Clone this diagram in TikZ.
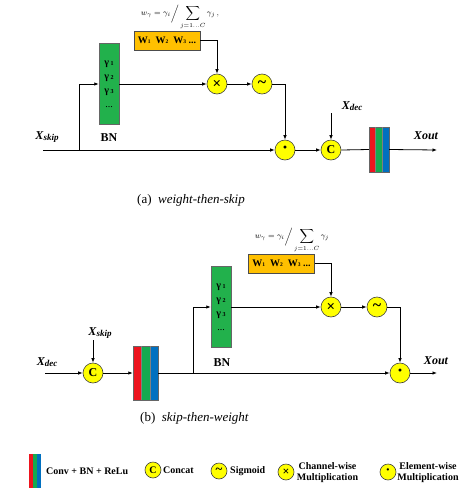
\documentclass[tikz,border=0pt]{standalone}
\usepackage{fontspec}
\setmainfont{Liberation Serif}
\usetikzlibrary{arrows.meta,calc}
\definecolor{bngreen}{RGB}{34,177,76}
\definecolor{worange}{RGB}{255,192,0}
\definecolor{opyellow}{RGB}{255,255,0}
\definecolor{cred}{RGB}{237,20,30}
\definecolor{cgreen}{RGB}{20,170,80}
\definecolor{cblue}{RGB}{0,112,192}
\newcommand{\convfill}[1]{%
  \fill[cred] (#1.north west) rectangle ($(#1.south west)!1/3!(#1.south east)$);
  \fill[cgreen] ($(#1.north west)!1/3!(#1.north east)$) rectangle ($(#1.south west)!2/3!(#1.south east)$);
  \fill[cblue] ($(#1.north west)!2/3!(#1.north east)$) rectangle (#1.south east);
  \draw[black!60,line width=0.4pt] (#1.north west) rectangle (#1.south east);
  \draw[black!50,line width=0.3pt] ($(#1.north west)!1/3!(#1.north east)$) -- ($(#1.south west)!1/3!(#1.south east)$)
     ($(#1.north west)!2/3!(#1.north east)$) -- ($(#1.south west)!2/3!(#1.south east)$);}
\newcommand{\gm}[1]{\textbf{γ}\,{\fontsize{6}{6}\selectfont\bfseries #1}}
\newcommand{\wv}[1]{W{\fontsize{5.5}{5.5}\selectfont #1}}
\newcommand{\xl}[1]{X\raisebox{-1.5pt}{\fontsize{9}{9}\selectfont #1}}
\newcommand{\smul}[1]{{\fontsize{#1}{#1}\selectfont\bfseries ×}}
\newcommand{\ssig}[1]{{\fontsize{#1}{#1}\selectfont\bfseries\raisebox{-0.08em}{\textasciitilde}}}
\newcommand{\sdot}[1]{{\fontsize{#1}{#1}\selectfont\bfseries ·}}
\begin{document}
\begin{tikzpicture}[x=1pt,y=-1pt,
  arr/.style={line width=0.8pt,-{Latex[length=4.5pt,width=3.5pt]}},
  ln/.style={line width=0.8pt},
  op/.style={circle,draw=black!75,fill=opyellow,line width=0.6pt,minimum size=20pt,inner sep=0pt,font=\bfseries\fontsize{12}{12}\selectfont},
  lop/.style={op,minimum size=16pt,font=\bfseries\fontsize{10}{10}\selectfont},
  bnbox/.style={draw=black!60,fill=bngreen,line width=0.4pt,minimum width=20pt,minimum height=81pt,inner sep=0pt,align=center,font=\fontsize{10}{14}\selectfont},
  wbox/.style={draw=black!70,fill=worange,line width=0.5pt,minimum width=66pt,minimum height=19pt,inner sep=0pt,font=\bfseries\fontsize{10}{10}\selectfont},
  convbox/.style={minimum width=20pt,minimum height=45pt,inner sep=0pt},
  lab/.style={font=\bfseries\itshape\fontsize{12}{12}\selectfont,inner sep=0pt},
  bnlab/.style={font=\bfseries\fontsize{12}{12}\selectfont,inner sep=0pt},
  captxt/.style={font=\fontsize{13}{13}\selectfont,inner sep=0pt},
  leg/.style={font=\bfseries\fontsize{10}{11}\selectfont,inner sep=0pt,align=center},
  frm/.style={font=\fontsize{8.5}{8.5}\selectfont,inner sep=0pt},
]
\useasboundingbox[fill=white] (0,0) rectangle (474,488);

% ---------------- (a) weight-then-skip ----------------
\node[frm] (fa) at (180,17) {$w_\gamma=\gamma_i\Big/\displaystyle\sum_{j=1\ldots C}\gamma_j\,,$};
\node[wbox] (wa) at (167,40.5) {\wv{1}\enspace\wv{2}\enspace\wv{3} ...};
\node[bnbox] (bna) at (109,84) {\gm{1}\\\gm{2}\\\gm{3}\\...};
\node[bnlab] (bnla) at (109,138) {BN};
\node[op] (mula) at (217,84) {\smul{15}};
\node[op] (siga) at (262,84) {\ssig{16}};
\node[op] (dota) at (285,150) {\sdot{18}};
\node[op] (cata) at (331,150) {C};
\node[convbox] (blka) at (379,149.5) {};
\convfill{blka}
\node[lab] (xsa) at (47,137) {\xl{skip}};
\node[lab] (xda) at (352,106) {\xl{dec}};
\node[lab] (xoa) at (426,136) {Xout};
\coordinate (ina) at (43,150);
\coordinate (bra) at (79,150);
\coordinate (xdsa) at (331,113);
\coordinate (outa) at (437,150);
\draw[arr] (ina) -- (dota.west);
\draw[arr] (bra) |- (bna.west);
\draw[arr] (bna.east) -- (mula.west);
\draw[arr] (wa.east) -| (mula.north);
\draw[arr] (mula.east) -- (siga.west);
\draw[arr] (siga.east) -| (dota.north);
\draw[arr] (dota.east) -- (cata.west);
\draw[arr] (xdsa) -- (cata.north);
\draw[ln] (cata.east) -- (blka.west);
\draw[arr] (blka.east) -- (outa);
\node[captxt] (capa) at (191,200) {(a)\enspace\textit{weight-then-skip}};

% ---------------- (b) skip-then-weight ----------------
\node[frm] (fb) at (292,240) {$w_\gamma=\gamma_i\Big/\displaystyle\sum_{j=1\ldots C}\gamma_j$};
\node[wbox] (wb) at (281.5,263.5) {\wv{1}\enspace\wv{2}\enspace\wv{3} ...};
\node[bnbox] (bnb) at (221,307) {\gm{1}\\\gm{2}\\\gm{3}\\...};
\node[bnlab] (bnlb) at (222,363) {BN};
\node[op] (catb) at (93,373) {C};
\node[convbox,minimum width=25pt,minimum height=54pt] (blkb) at (145.5,373) {};
\convfill{blkb}
\node[op] (mulb) at (331,307) {\smul{15}};
\node[op] (sigb) at (377,307) {\ssig{16}};
\node[op] (dotb) at (400,373) {\sdot{18}};
\node[lab] (xdb) at (47,362) {\xl{dec}};
\node[lab] (xsb) at (100,333) {\xl{skip}};
\node[lab] (xob) at (436,361) {Xout};
\coordinate (inb) at (45,373);
\coordinate (xssb) at (93,340);
\coordinate (brb) at (193,373);
\coordinate (outb) at (437,373);
\draw[arr] (inb) -- (catb.west);
\draw[arr] (xssb) -- (catb.north);
\draw[arr] (catb.east) -- (blkb.west);
\draw[arr] (blkb.east) -- (dotb.west);
\draw[arr] (brb) |- (bnb.west);
\draw[arr] (bnb.east) -- (mulb.west);
\draw[arr] (wb.east) -| (mulb.north);
\draw[arr] (mulb.east) -- (sigb.west);
\draw[arr] (sigb.east) -| (dotb.north);
\draw[arr] (dotb.east) -- (outb);
\node[captxt] (capb) at (194.5,418) {(b)\enspace\textit{skip-then-weight}};

% ---------------- legend ----------------
\node[inner sep=0pt,minimum width=12pt,minimum height=34pt] (lblk) at (35,471) {};
\fill[cred] (lblk.north west) rectangle ($(lblk.south west)!1/3!(lblk.south east)$);
\fill[cgreen] ($(lblk.north west)!1/3!(lblk.north east)$) rectangle ($(lblk.south west)!2/3!(lblk.south east)$);
\fill[cblue] ($(lblk.north west)!2/3!(lblk.north east)$) rectangle (lblk.south east);
\node[leg,anchor=west] (lconv) at (46,471) {Conv + BN + ReLu};
\node[lop] (lcat) at (153,470) {C};
\node[leg,anchor=west] (lcatt) at (163,470) {Concat};
\node[lop] (lsig) at (219,471) {\ssig{13}};
\node[leg,anchor=west] (lsigt) at (230,471) {Sigmoid};
\node[lop] (lmul) at (286,472) {\smul{12}};
\node[leg] (lmult) at (327.5,473) {Channel-wise\\Multiplication};
\node[lop] (ldot) at (388,472) {\sdot{14}};
\node[leg] (ldott) at (428,473) {Element-wise\\Multiplication};
\end{tikzpicture}
\end{document}
